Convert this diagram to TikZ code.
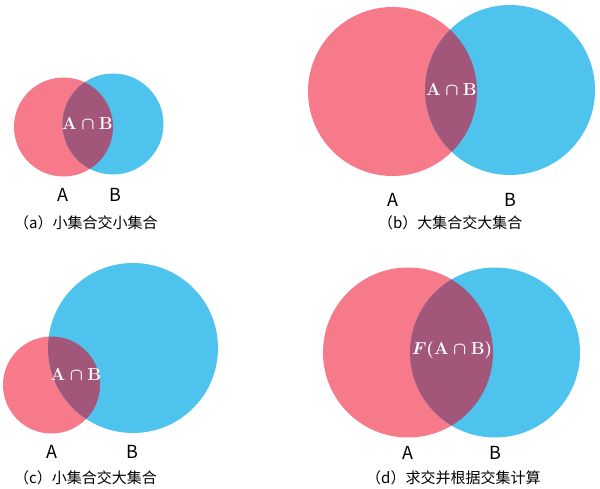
\documentclass[tikz,border=0pt]{standalone}
\usepackage{fontspec}
\newfontfamily\cjk{Noto Sans CJK SC}
\definecolor{setred}{HTML}{F77A8A}
\definecolor{setblue}{HTML}{4DC3EE}
\definecolor{setmix}{HTML}{A2577A}
\tikzset{
  setA/.style={fill=setred},
  setB/.style={fill=setblue},
  mixfill/.style={fill=setmix},
  interlabel/.style={text=white,font=\fontsize{16}{18}\selectfont\boldmath,inner sep=0pt},
  setlabel/.style={font=\cjk\fontsize{18}{20}\selectfont,inner sep=0pt},
  caption/.style={font=\cjk\fontsize{15}{17}\selectfont,inner sep=0pt,anchor=west}
}
\newcommand{\venn}[6]{%
  % #1 red center, #2 red radius, #3 blue center, #4 blue radius, #5 label pos, #6 text
  \fill[setA] #1 circle (#2);
  \fill[setB] #3 circle (#4);
  \begin{scope}
    \clip #1 circle (#2);
    \fill[mixfill] #3 circle (#4);
  \end{scope}
}
\begin{document}
\begin{tikzpicture}[x=1pt,y=-1pt]
\useasboundingbox[fill=white] (0,0) rectangle (600,489);
% (a)
\venn{(63.5,127)}{49.5}{(113,124)}{50.5}{}{}
\node[interlabel] (ia) at (87.5,124) {$\mathbf{A}\cap\mathbf{B}$};
\node[setlabel] (aa) at (63,195) {A};
\node[setlabel] (ab) at (115,195) {B};
\node[caption] (ca) at (14,223) {（a）小集合交小集合};
% (b)
\venn{(392.5,91.5)}{84.5}{(510,90)}{85}{}{}
\node[interlabel] (ib) at (451.5,90) {$\mathbf{A}\cap\mathbf{B}$};
\node[setlabel] (ba) at (393,200) {A};
\node[setlabel] (bb) at (510,200) {B};
\node[caption] (cb) at (378,223) {（b）大集合交大集合};
% (c)
\venn{(51.5,385)}{48.5}{(133,348)}{85}{}{}
\node[interlabel] (ic) at (76,375) {$\mathbf{A}\cap\mathbf{B}$};
\node[setlabel] (ca1) at (52,452) {A};
\node[setlabel] (cb1) at (132,452) {B};
\node[caption] (cc) at (14,478) {（c）小集合交大集合};
% (d)
\venn{(408,352.5)}{85}{(495,352.5)}{85}{}{}
\node[interlabel] (id) at (452,350) {$F(\mathbf{A}\cap\mathbf{B})$};
\node[setlabel] (da) at (408,453) {A};
\node[setlabel] (db) at (495,453) {B};
\node[caption] (cd) at (366,478) {（d）求交并根据交集计算};
\end{tikzpicture}
\end{document}
